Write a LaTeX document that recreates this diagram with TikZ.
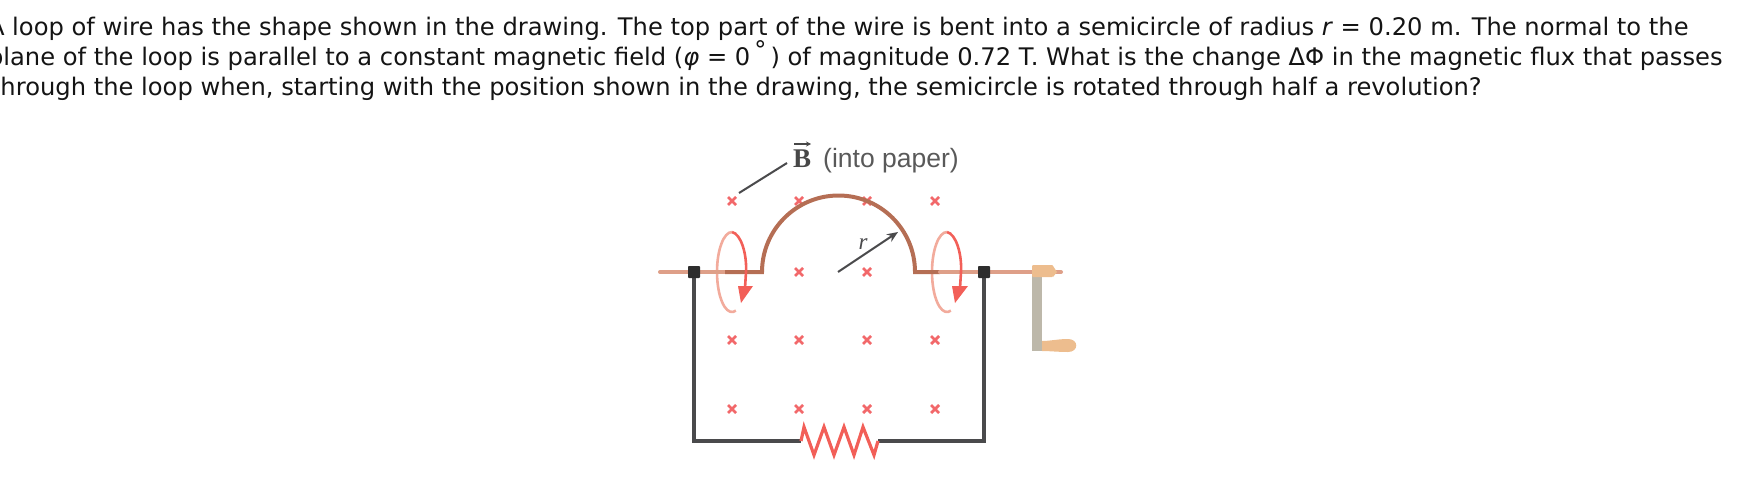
\documentclass[tikz,border=0pt]{standalone}
\usepackage{fontspec}
\setmainfont{DejaVu Sans}
\newfontfamily\labelfont{Liberation Sans}
\newfontfamily\serifb{Liberation Serif}
\usetikzlibrary{shapes.misc,arrows.meta}
\definecolor{wiredark}{HTML}{4A4A4C}
\definecolor{copper}{HTML}{B56E54}
\definecolor{copperlt}{HTML}{DE9F88}
\definecolor{fieldred}{HTML}{F2686A}
\definecolor{rotred}{HTML}{F25F58}
\definecolor{rotlt}{HTML}{F2AB9C}
\definecolor{hub}{HTML}{EDBD8E}
\definecolor{armgrey}{HTML}{BDB8AA}
\tikzset{
  qtext/.style={anchor=base west,inner sep=0pt,outer sep=0pt,font=\fontsize{24.2}{29}\selectfont,text=black!92},
  fieldx/.style={cross out,draw=fieldred,line width=2.8pt,minimum size=8pt,inner sep=0pt,outer sep=0pt},
  loopwire/.style={draw=wiredark,line width=3.6pt,line join=miter},
  copperwire/.style={draw=copper,line width=4pt},
  lightwire/.style={draw=copperlt,line width=4pt,line cap=round},
  rotback/.style={draw=rotlt,line width=2.6pt},
  rotfront/.style={draw=rotred,line width=2.6pt},
  rothead/.style={fill=rotred,draw=none},
  terminal/.style={fill=black!82,draw=none,minimum size=12pt,inner sep=0pt,outer sep=0pt,rounded corners=0.8pt},
  pointer/.style={draw=wiredark,line width=2pt}
}
\begin{document}
\begin{tikzpicture}[x=1pt,y=1pt]
\useasboundingbox (0,0) rectangle (1744,-498);
\clip (0,0) rectangle (1744,-498);
% question text
\node[qtext] (q1) at (-12,-35.5) {A loop of wire has the shape shown in the drawing. The top part of the wire is bent into a semicircle of radius \textit{r} = 0.20 m. The normal to the};
\node[qtext] (q2) at (-12,-65.5) {plane of the loop is parallel to a constant magnetic field (\textit{φ} = 0\,\raisebox{0.28em}{°}\,) of magnitude 0.72 T. What is the change ΔΦ in the magnetic flux that passes};
\node[qtext] (q3) at (-9,-95.5) {through the loop when, starting with the position shown in the drawing, the semicircle is rotated through half a revolution?};
% field crosses
\foreach \cx [count=\i] in {732,799,867,935}{
  \foreach \cy [count=\j] in {201,340,409}{
    \node[fieldx] (f\i\j) at (\cx,-\cy) {};
  }
}
\node[fieldx] (f24) at (799,-272) {};
\node[fieldx] (f34) at (867,-272) {};
% wire anchor points
\coordinate (wL) at (660,-272);
\coordinate (aL) at (762,-272);
\coordinate (aR) at (915,-272);
\coordinate (wR) at (1061,-272);
\coordinate (blc) at (694,-441);
\coordinate (brc) at (984,-441);
\coordinate (rs) at (801,-441);
\coordinate (re) at (878,-441);
% rotation back halves
\draw[rotback] (732,-232) arc[start angle=90,end angle=285,x radius=15,y radius=40];
\draw[rotback] (947,-232) arc[start angle=90,end angle=285,x radius=15,y radius=40];
% axle and semicircle
\draw[lightwire] (wL) -- (725,-272);
\draw[copperwire] (725,-272) -- (aL) arc[start angle=180,end angle=0,radius=76.5] -- (940,-272);
\draw[lightwire] (940,-272) -- (wR);
% circuit
\draw[loopwire] (694,-272) -- (blc) -- (rs);
\draw[loopwire] (984,-272) -- (brc) -- (re);
\node[terminal] (sL) at (694,-272) {};
\node[terminal] (sR) at (984,-272) {};
\draw[draw=rotred,line width=3.2pt,line join=miter] (rs) -- (804,-427) -- (814,-455) -- (824,-427) -- (834,-455) -- (844,-427) -- (854,-455) -- (863,-427) -- (874,-455) -- (re);
% rotation front halves
\draw[rotfront] (732,-232) .. controls (741,-234) and (747,-254) .. (746,-272) -- (745,-288);
\fill[rothead] (738,-286) -- (753,-286) -- (741,-303) -- cycle;
\draw[rotfront] (947,-232) .. controls (956,-234) and (962,-254) .. (961,-272) -- (960,-288);
\fill[rothead] (952,-286) -- (968,-286) -- (955,-303) -- cycle;
% crank
\fill[armgrey] (1032,-276) rectangle (1042,-351);
\fill[hub,rounded corners=1pt] (1032,-265) rectangle (1053,-277);
\fill[hub] (1053,-266) -- (1057,-272) -- (1053,-277) -- cycle;
\fill[hub] (1042,-341) .. controls (1050,-341) and (1058,-339) .. (1068,-339) .. controls (1079,-339) and (1079,-352) .. (1068,-352) .. controls (1058,-352) and (1050,-351) .. (1042,-351) -- cycle;
% radius
\coordinate (rtail) at (838,-272);
\coordinate (rtip) at (898,-232);
\draw[pointer,-{Stealth[length=11pt,width=9pt]}] (rtail) -- (rtip);
\node[inner sep=0pt,font=\serifb\itshape\fontsize{23}{26}\selectfont,text=wiredark] (rlab) at (863,-244) {r};
% field label
\node[anchor=base west,inner sep=0pt,font=\serifb\bfseries\fontsize{27}{30}\selectfont,text=black!72] (bsym) at (793,-167) {B};
\node[anchor=base west,inner sep=0pt,font=\labelfont\fontsize{26.5}{30}\selectfont,text=black!65] (blab) at (823,-167) {(into paper)};
\coordinate (hatL) at (794,-144);
\coordinate (hatR) at (811,-144);
\draw[draw=black!72,line width=1.5pt,-{Stealth[length=5pt,width=5pt]}] (hatL) -- (hatR);
\coordinate (lead) at (739,-193);
\draw[pointer] (787,-163) -- (lead);
\end{tikzpicture}
\end{document}
